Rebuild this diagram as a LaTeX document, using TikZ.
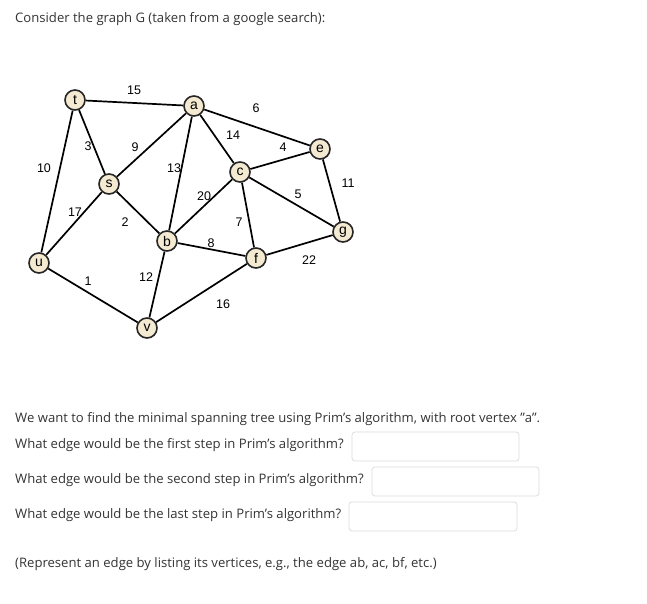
\documentclass[tikz,border=0pt]{standalone}
\usepackage{fontspec}
\setmainfont{Open Sans}
\newfontfamily\graphfont{Liberation Sans}
\usetikzlibrary{positioning,backgrounds}

\begin{document}
\begin{tikzpicture}[x=1pt,y=-1pt,thick,
	vertex/.style={circle,draw=black!85,line width=1.6pt,fill=yellow!20!brown!22,inner sep=0pt,minimum size=20pt,font=\graphfont\fontsize{14}{14}\selectfont},
	wt/.style={font=\graphfont\fontsize{12.5}{12.5}\selectfont,inner sep=0pt},
	txt/.style={anchor=west,inner sep=0pt,font=\fontsize{13.1}{15}\selectfont,text=black!80},
	answer/.style={draw=black!15,rounded corners=3pt,line width=0.7pt}]
	\useasboundingbox (0,0) rectangle (647,604);
	% vertices
	\node[vertex] (t) at (75,100) {t};
	\node[vertex] (a) at (194,106) {a};
	\node[vertex] (e) at (320,149) {e};
	\node[vertex] (c) at (240,172) {c};
	\node[vertex] (s) at (109,184) {s};
	\node[vertex] (b) at (167,241) {b};
	\node[vertex] (u) at (39,263) {u};
	\node[vertex] (f) at (256,258) {f};
	\node[vertex] (g) at (343,232) {g};
	\node[vertex] (v) at (147,328) {v};
	% edges
	\begin{pgfonlayer}{background}
	\path[draw,line width=1.7pt]
	(t)	edge (a)
		edge (s)
		edge (u)
	(a)	edge (s)
		edge (b)
		edge (c)
		edge (e)
	(c)	edge (e)
		edge (b)
		edge (f)
		edge (g)
	(e)	edge (g)
	(s)	edge (u)
		edge (b)
	(b)	edge (f)
		edge (v)
	(u)	edge (v)
	(v)	edge (f)
	(f)	edge (g)
	;
	\end{pgfonlayer}
	% weights
	\node[wt] (w15) at (134,90) {15};
	\node[wt] (w6) at (256,108) {6};
	\node[wt] (w14) at (233,135) {14};
	\node[wt] (w4) at (283,147) {4};
	\node[wt] (w3) at (88,146) {3};
	\node[wt] (w9) at (135,147) {9};
	\node[wt] (w10) at (44,168) {10};
	\node[wt] (w13) at (174,168) {13};
	\node[wt] (w11) at (348,183) {11};
	\node[wt] (w20) at (204,196) {20};
	\node[wt] (w5) at (298,194) {5};
	\node[wt] (w17) at (75,212) {17};
	\node[wt] (w2) at (125,222) {2};
	\node[wt] (w7) at (239,222) {7};
	\node[wt] (w8) at (211,243) {8};
	\node[wt] (w22) at (309,260) {22};
	\node[wt] (w12) at (146,277) {12};
	\node[wt] (w1) at (88,281) {1};
	\node[wt] (w16) at (223,304) {16};
	% question text
	\node[txt] (intro) at (15,19) {Consider the graph G (taken from a google search):};
	\node[txt] (goal) at (15,419) {We want to find the minimal spanning tree using Prim's algorithm, with root vertex "a".};
	\node[txt] (q1) at (15,445) {What edge would be the first step in Prim's algorithm?};
	\node[txt] (q2) at (15,480) {What edge would be the second step in Prim's algorithm?};
	\node[txt] (q3) at (15,515) {What edge would be the last step in Prim's algorithm?};
	\node[txt] (hint) at (15,564) {(Represent an edge by listing its vertices, e.g., the edge ab, ac, bf, etc.)};
	\draw[answer] (352,432) rectangle (519,461);
	\draw[answer] (372,467) rectangle (539,496);
	\draw[answer] (349,502) rectangle (517,531);
\end{tikzpicture}
\end{document}
